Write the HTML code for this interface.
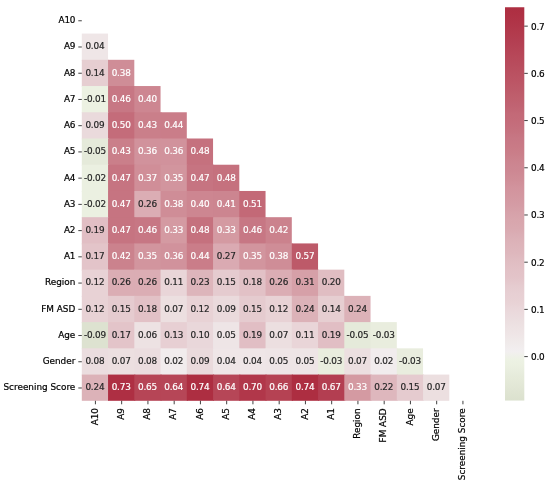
<!DOCTYPE html>
<html lang="en"><head><meta charset="utf-8"><title>Correlation heatmap</title>
<style>
html,body{margin:0;padding:0;background:#fff;}
body{width:550px;height:485px;position:relative;overflow:hidden;}
svg text{font-family:"DejaVu Sans","Liberation Sans",sans-serif;}
</style></head><body>
<svg width="550" height="485" viewBox="0 0 550 485" style="display:block;position:absolute;left:0;top:0">
<rect x="0" y="0" width="550" height="485" fill="#ffffff"/>
<g shape-rendering="auto">
<rect x="81.8" y="33.58" width="26.25" height="27.23" fill="#efe6e7"/>
<rect x="81.8" y="59.81" width="27.25" height="27.23" fill="#e6ced1"/>
<rect x="108.05" y="59.81" width="26.25" height="27.23" fill="#cf8d97"/>
<rect x="81.8" y="86.04" width="27.25" height="27.23" fill="#ecf1e2"/>
<rect x="108.05" y="86.04" width="27.25" height="27.23" fill="#c77784"/>
<rect x="134.3" y="86.04" width="26.25" height="27.23" fill="#cd8691"/>
<rect x="81.8" y="112.27" width="27.25" height="27.23" fill="#eadadc"/>
<rect x="108.05" y="112.27" width="27.25" height="27.23" fill="#c46c7a"/>
<rect x="134.3" y="112.27" width="27.25" height="27.23" fill="#ca7f8a"/>
<rect x="160.55" y="112.27" width="26.25" height="27.23" fill="#ca7d89"/>
<rect x="81.8" y="138.5" width="27.25" height="27.23" fill="#e5eada"/>
<rect x="108.05" y="138.5" width="27.25" height="27.23" fill="#ca7f8a"/>
<rect x="134.3" y="138.5" width="27.25" height="27.23" fill="#d1929c"/>
<rect x="160.55" y="138.5" width="27.25" height="27.23" fill="#d1929c"/>
<rect x="186.8" y="138.5" width="26.25" height="27.23" fill="#c5717e"/>
<rect x="81.8" y="164.73" width="27.25" height="27.23" fill="#ebf0e1"/>
<rect x="108.05" y="164.73" width="27.25" height="27.23" fill="#c67481"/>
<rect x="134.3" y="164.73" width="27.25" height="27.23" fill="#d08e98"/>
<rect x="160.55" y="164.73" width="27.25" height="27.23" fill="#d2959e"/>
<rect x="186.8" y="164.73" width="27.25" height="27.23" fill="#c67481"/>
<rect x="213.05" y="164.73" width="26.25" height="27.23" fill="#c5717e"/>
<rect x="81.8" y="190.96" width="27.25" height="27.23" fill="#ebf0e1"/>
<rect x="108.05" y="190.96" width="27.25" height="27.23" fill="#c67481"/>
<rect x="134.3" y="190.96" width="27.25" height="27.23" fill="#dbadb4"/>
<rect x="160.55" y="190.96" width="27.25" height="27.23" fill="#cf8d97"/>
<rect x="186.8" y="190.96" width="27.25" height="27.23" fill="#cd8691"/>
<rect x="213.05" y="190.96" width="27.25" height="27.23" fill="#cc8590"/>
<rect x="239.3" y="190.96" width="26.25" height="27.23" fill="#c36977"/>
<rect x="81.8" y="217.19" width="27.25" height="27.23" fill="#e1bec4"/>
<rect x="108.05" y="217.19" width="27.25" height="27.23" fill="#c67481"/>
<rect x="134.3" y="217.19" width="27.25" height="27.23" fill="#c77784"/>
<rect x="160.55" y="217.19" width="27.25" height="27.23" fill="#d49aa2"/>
<rect x="186.8" y="217.19" width="27.25" height="27.23" fill="#c5717e"/>
<rect x="213.05" y="217.19" width="27.25" height="27.23" fill="#d49aa2"/>
<rect x="239.3" y="217.19" width="27.25" height="27.23" fill="#c77784"/>
<rect x="265.55" y="217.19" width="26.25" height="27.23" fill="#cb828d"/>
<rect x="81.8" y="243.42" width="27.25" height="27.23" fill="#e3c4c9"/>
<rect x="108.05" y="243.42" width="27.25" height="27.23" fill="#cb828d"/>
<rect x="134.3" y="243.42" width="27.25" height="27.23" fill="#d2959e"/>
<rect x="160.55" y="243.42" width="27.25" height="27.23" fill="#d1929c"/>
<rect x="186.8" y="243.42" width="27.25" height="27.23" fill="#ca7d89"/>
<rect x="213.05" y="243.42" width="27.25" height="27.23" fill="#daaab2"/>
<rect x="239.3" y="243.42" width="27.25" height="27.23" fill="#d2959e"/>
<rect x="265.55" y="243.42" width="27.25" height="27.23" fill="#cf8d97"/>
<rect x="291.8" y="243.42" width="26.25" height="27.23" fill="#bd5a69"/>
<rect x="81.8" y="269.65" width="27.25" height="27.23" fill="#e8d2d5"/>
<rect x="108.05" y="269.65" width="27.25" height="27.23" fill="#dbadb4"/>
<rect x="134.3" y="269.65" width="27.25" height="27.23" fill="#dbadb4"/>
<rect x="160.55" y="269.65" width="27.25" height="27.23" fill="#e9d5d8"/>
<rect x="186.8" y="269.65" width="27.25" height="27.23" fill="#ddb5bb"/>
<rect x="213.05" y="269.65" width="27.25" height="27.23" fill="#e5cbcf"/>
<rect x="239.3" y="269.65" width="27.25" height="27.23" fill="#e2c1c6"/>
<rect x="265.55" y="269.65" width="27.25" height="27.23" fill="#dbadb4"/>
<rect x="291.8" y="269.65" width="27.25" height="27.23" fill="#d6a0a8"/>
<rect x="318.05" y="269.65" width="26.25" height="27.23" fill="#e0bdc2"/>
<rect x="81.8" y="295.88" width="27.25" height="27.23" fill="#e8d2d5"/>
<rect x="108.05" y="295.88" width="27.25" height="27.23" fill="#e5cbcf"/>
<rect x="134.3" y="295.88" width="27.25" height="27.23" fill="#e2c1c6"/>
<rect x="160.55" y="295.88" width="27.25" height="27.23" fill="#ecdfe0"/>
<rect x="186.8" y="295.88" width="27.25" height="27.23" fill="#e8d2d5"/>
<rect x="213.05" y="295.88" width="27.25" height="27.23" fill="#eadadc"/>
<rect x="239.3" y="295.88" width="27.25" height="27.23" fill="#e5cbcf"/>
<rect x="265.55" y="295.88" width="27.25" height="27.23" fill="#e8d2d5"/>
<rect x="291.8" y="295.88" width="27.25" height="27.23" fill="#dcb2b8"/>
<rect x="318.05" y="295.88" width="27.25" height="27.23" fill="#e6ced1"/>
<rect x="344.3" y="295.88" width="26.25" height="27.23" fill="#dcb2b8"/>
<rect x="81.8" y="322.11" width="27.25" height="27.23" fill="#dde2d0"/>
<rect x="108.05" y="322.11" width="27.25" height="27.23" fill="#e3c4c9"/>
<rect x="134.3" y="322.11" width="27.25" height="27.23" fill="#ede2e3"/>
<rect x="160.55" y="322.11" width="27.25" height="27.23" fill="#e7cfd3"/>
<rect x="186.8" y="322.11" width="27.25" height="27.23" fill="#e9d7da"/>
<rect x="213.05" y="322.11" width="27.25" height="27.23" fill="#eee5e6"/>
<rect x="239.3" y="322.11" width="27.25" height="27.23" fill="#e1bec4"/>
<rect x="265.55" y="322.11" width="27.25" height="27.23" fill="#ecdfe0"/>
<rect x="291.8" y="322.11" width="27.25" height="27.23" fill="#e9d5d8"/>
<rect x="318.05" y="322.11" width="27.25" height="27.23" fill="#e1bec4"/>
<rect x="344.3" y="322.11" width="27.25" height="27.23" fill="#e5eada"/>
<rect x="370.55" y="322.11" width="26.25" height="27.23" fill="#e9edde"/>
<rect x="81.8" y="348.34" width="27.25" height="27.23" fill="#ebdddf"/>
<rect x="108.05" y="348.34" width="27.25" height="27.23" fill="#ecdfe0"/>
<rect x="134.3" y="348.34" width="27.25" height="27.23" fill="#ebdddf"/>
<rect x="160.55" y="348.34" width="27.25" height="27.23" fill="#f1eced"/>
<rect x="186.8" y="348.34" width="27.25" height="27.23" fill="#eadadc"/>
<rect x="213.05" y="348.34" width="27.25" height="27.23" fill="#efe6e7"/>
<rect x="239.3" y="348.34" width="27.25" height="27.23" fill="#efe6e7"/>
<rect x="265.55" y="348.34" width="27.25" height="27.23" fill="#eee5e6"/>
<rect x="291.8" y="348.34" width="27.25" height="27.23" fill="#eee5e6"/>
<rect x="318.05" y="348.34" width="27.25" height="27.23" fill="#e9edde"/>
<rect x="344.3" y="348.34" width="27.25" height="27.23" fill="#ecdfe0"/>
<rect x="370.55" y="348.34" width="27.25" height="27.23" fill="#f1eced"/>
<rect x="396.8" y="348.34" width="26.25" height="27.23" fill="#e9edde"/>
<rect x="81.8" y="374.57" width="27.25" height="26.23" fill="#dcb2b8"/>
<rect x="108.05" y="374.57" width="27.25" height="26.23" fill="#ae2f43"/>
<rect x="134.3" y="374.57" width="27.25" height="26.23" fill="#b64556"/>
<rect x="160.55" y="374.57" width="27.25" height="26.23" fill="#b64657"/>
<rect x="186.8" y="374.57" width="27.25" height="26.23" fill="#ad2e41"/>
<rect x="213.05" y="374.57" width="27.25" height="26.23" fill="#b64657"/>
<rect x="239.3" y="374.57" width="27.25" height="26.23" fill="#b1374a"/>
<rect x="265.55" y="374.57" width="27.25" height="26.23" fill="#b54253"/>
<rect x="291.8" y="374.57" width="27.25" height="26.23" fill="#ad2e41"/>
<rect x="318.05" y="374.57" width="27.25" height="26.23" fill="#b33e51"/>
<rect x="344.3" y="374.57" width="27.25" height="26.23" fill="#d49aa2"/>
<rect x="370.55" y="374.57" width="27.25" height="26.23" fill="#deb7bd"/>
<rect x="396.8" y="374.57" width="27.25" height="26.23" fill="#e5cbcf"/>
<rect x="423.05" y="374.57" width="26.25" height="26.23" fill="#ecdfe0"/>
</g>
<g font-size="8.87" text-anchor="middle" letter-spacing="-0.2" stroke-width="0.2">
<text x="94.92" y="49.4" fill="#262626" stroke="#262626">0.04</text>
<text x="94.92" y="75.62" fill="#262626" stroke="#262626">0.14</text>
<text x="121.17" y="75.62" fill="#ffffff" stroke="#ffffff">0.38</text>
<text x="94.92" y="101.86" fill="#262626" stroke="#262626">-0.01</text>
<text x="121.17" y="101.86" fill="#ffffff" stroke="#ffffff">0.46</text>
<text x="147.43" y="101.86" fill="#ffffff" stroke="#ffffff">0.40</text>
<text x="94.92" y="128.08" fill="#262626" stroke="#262626">0.09</text>
<text x="121.17" y="128.08" fill="#ffffff" stroke="#ffffff">0.50</text>
<text x="147.43" y="128.08" fill="#ffffff" stroke="#ffffff">0.43</text>
<text x="173.68" y="128.08" fill="#ffffff" stroke="#ffffff">0.44</text>
<text x="94.92" y="154.31" fill="#262626" stroke="#262626">-0.05</text>
<text x="121.17" y="154.31" fill="#ffffff" stroke="#ffffff">0.43</text>
<text x="147.43" y="154.31" fill="#ffffff" stroke="#ffffff">0.36</text>
<text x="173.68" y="154.31" fill="#ffffff" stroke="#ffffff">0.36</text>
<text x="199.93" y="154.31" fill="#ffffff" stroke="#ffffff">0.48</text>
<text x="94.92" y="180.54" fill="#262626" stroke="#262626">-0.02</text>
<text x="121.17" y="180.54" fill="#ffffff" stroke="#ffffff">0.47</text>
<text x="147.43" y="180.54" fill="#ffffff" stroke="#ffffff">0.37</text>
<text x="173.68" y="180.54" fill="#ffffff" stroke="#ffffff">0.35</text>
<text x="199.93" y="180.54" fill="#ffffff" stroke="#ffffff">0.47</text>
<text x="226.18" y="180.54" fill="#ffffff" stroke="#ffffff">0.48</text>
<text x="94.92" y="206.77" fill="#262626" stroke="#262626">-0.02</text>
<text x="121.17" y="206.77" fill="#ffffff" stroke="#ffffff">0.47</text>
<text x="147.43" y="206.77" fill="#262626" stroke="#262626">0.26</text>
<text x="173.68" y="206.77" fill="#ffffff" stroke="#ffffff">0.38</text>
<text x="199.93" y="206.77" fill="#ffffff" stroke="#ffffff">0.40</text>
<text x="226.18" y="206.77" fill="#ffffff" stroke="#ffffff">0.41</text>
<text x="252.43" y="206.77" fill="#ffffff" stroke="#ffffff">0.51</text>
<text x="94.92" y="233" fill="#262626" stroke="#262626">0.19</text>
<text x="121.17" y="233" fill="#ffffff" stroke="#ffffff">0.47</text>
<text x="147.43" y="233" fill="#ffffff" stroke="#ffffff">0.46</text>
<text x="173.68" y="233" fill="#ffffff" stroke="#ffffff">0.33</text>
<text x="199.93" y="233" fill="#ffffff" stroke="#ffffff">0.48</text>
<text x="226.18" y="233" fill="#ffffff" stroke="#ffffff">0.33</text>
<text x="252.43" y="233" fill="#ffffff" stroke="#ffffff">0.46</text>
<text x="278.68" y="233" fill="#ffffff" stroke="#ffffff">0.42</text>
<text x="94.92" y="259.24" fill="#262626" stroke="#262626">0.17</text>
<text x="121.17" y="259.24" fill="#ffffff" stroke="#ffffff">0.42</text>
<text x="147.43" y="259.24" fill="#ffffff" stroke="#ffffff">0.35</text>
<text x="173.68" y="259.24" fill="#ffffff" stroke="#ffffff">0.36</text>
<text x="199.93" y="259.24" fill="#ffffff" stroke="#ffffff">0.44</text>
<text x="226.18" y="259.24" fill="#262626" stroke="#262626">0.27</text>
<text x="252.43" y="259.24" fill="#ffffff" stroke="#ffffff">0.35</text>
<text x="278.68" y="259.24" fill="#ffffff" stroke="#ffffff">0.38</text>
<text x="304.93" y="259.24" fill="#ffffff" stroke="#ffffff">0.57</text>
<text x="94.92" y="285.47" fill="#262626" stroke="#262626">0.12</text>
<text x="121.17" y="285.47" fill="#262626" stroke="#262626">0.26</text>
<text x="147.43" y="285.47" fill="#262626" stroke="#262626">0.26</text>
<text x="173.68" y="285.47" fill="#262626" stroke="#262626">0.11</text>
<text x="199.93" y="285.47" fill="#262626" stroke="#262626">0.23</text>
<text x="226.18" y="285.47" fill="#262626" stroke="#262626">0.15</text>
<text x="252.43" y="285.47" fill="#262626" stroke="#262626">0.18</text>
<text x="278.68" y="285.47" fill="#262626" stroke="#262626">0.26</text>
<text x="304.93" y="285.47" fill="#262626" stroke="#262626">0.31</text>
<text x="331.18" y="285.47" fill="#262626" stroke="#262626">0.20</text>
<text x="94.92" y="311.69" fill="#262626" stroke="#262626">0.12</text>
<text x="121.17" y="311.69" fill="#262626" stroke="#262626">0.15</text>
<text x="147.43" y="311.69" fill="#262626" stroke="#262626">0.18</text>
<text x="173.68" y="311.69" fill="#262626" stroke="#262626">0.07</text>
<text x="199.93" y="311.69" fill="#262626" stroke="#262626">0.12</text>
<text x="226.18" y="311.69" fill="#262626" stroke="#262626">0.09</text>
<text x="252.43" y="311.69" fill="#262626" stroke="#262626">0.15</text>
<text x="278.68" y="311.69" fill="#262626" stroke="#262626">0.12</text>
<text x="304.93" y="311.69" fill="#262626" stroke="#262626">0.24</text>
<text x="331.18" y="311.69" fill="#262626" stroke="#262626">0.14</text>
<text x="357.43" y="311.69" fill="#262626" stroke="#262626">0.24</text>
<text x="94.92" y="337.93" fill="#262626" stroke="#262626">-0.09</text>
<text x="121.17" y="337.93" fill="#262626" stroke="#262626">0.17</text>
<text x="147.43" y="337.93" fill="#262626" stroke="#262626">0.06</text>
<text x="173.68" y="337.93" fill="#262626" stroke="#262626">0.13</text>
<text x="199.93" y="337.93" fill="#262626" stroke="#262626">0.10</text>
<text x="226.18" y="337.93" fill="#262626" stroke="#262626">0.05</text>
<text x="252.43" y="337.93" fill="#262626" stroke="#262626">0.19</text>
<text x="278.68" y="337.93" fill="#262626" stroke="#262626">0.07</text>
<text x="304.93" y="337.93" fill="#262626" stroke="#262626">0.11</text>
<text x="331.18" y="337.93" fill="#262626" stroke="#262626">0.19</text>
<text x="357.43" y="337.93" fill="#262626" stroke="#262626">-0.05</text>
<text x="383.68" y="337.93" fill="#262626" stroke="#262626">-0.03</text>
<text x="94.92" y="364.16" fill="#262626" stroke="#262626">0.08</text>
<text x="121.17" y="364.16" fill="#262626" stroke="#262626">0.07</text>
<text x="147.43" y="364.16" fill="#262626" stroke="#262626">0.08</text>
<text x="173.68" y="364.16" fill="#262626" stroke="#262626">0.02</text>
<text x="199.93" y="364.16" fill="#262626" stroke="#262626">0.09</text>
<text x="226.18" y="364.16" fill="#262626" stroke="#262626">0.04</text>
<text x="252.43" y="364.16" fill="#262626" stroke="#262626">0.04</text>
<text x="278.68" y="364.16" fill="#262626" stroke="#262626">0.05</text>
<text x="304.93" y="364.16" fill="#262626" stroke="#262626">0.05</text>
<text x="331.18" y="364.16" fill="#262626" stroke="#262626">-0.03</text>
<text x="357.43" y="364.16" fill="#262626" stroke="#262626">0.07</text>
<text x="383.68" y="364.16" fill="#262626" stroke="#262626">0.02</text>
<text x="409.93" y="364.16" fill="#262626" stroke="#262626">-0.03</text>
<text x="94.92" y="390.38" fill="#262626" stroke="#262626">0.24</text>
<text x="121.17" y="390.38" fill="#ffffff" stroke="#ffffff">0.73</text>
<text x="147.43" y="390.38" fill="#ffffff" stroke="#ffffff">0.65</text>
<text x="173.68" y="390.38" fill="#ffffff" stroke="#ffffff">0.64</text>
<text x="199.93" y="390.38" fill="#ffffff" stroke="#ffffff">0.74</text>
<text x="226.18" y="390.38" fill="#ffffff" stroke="#ffffff">0.64</text>
<text x="252.43" y="390.38" fill="#ffffff" stroke="#ffffff">0.70</text>
<text x="278.68" y="390.38" fill="#ffffff" stroke="#ffffff">0.66</text>
<text x="304.93" y="390.38" fill="#ffffff" stroke="#ffffff">0.74</text>
<text x="331.18" y="390.38" fill="#ffffff" stroke="#ffffff">0.67</text>
<text x="357.43" y="390.38" fill="#ffffff" stroke="#ffffff">0.33</text>
<text x="383.68" y="390.38" fill="#262626" stroke="#262626">0.22</text>
<text x="409.93" y="390.38" fill="#262626" stroke="#262626">0.15</text>
<text x="436.18" y="390.38" fill="#262626" stroke="#262626">0.07</text>
</g>
<g stroke="#000" stroke-width="0.75">
<line x1="78.3" y1="20.77" x2="81.8" y2="20.77"/>
<line x1="78.3" y1="46.99" x2="81.8" y2="46.99"/>
<line x1="78.3" y1="73.22" x2="81.8" y2="73.22"/>
<line x1="78.3" y1="99.45" x2="81.8" y2="99.45"/>
<line x1="78.3" y1="125.68" x2="81.8" y2="125.68"/>
<line x1="78.3" y1="151.92" x2="81.8" y2="151.92"/>
<line x1="78.3" y1="178.15" x2="81.8" y2="178.15"/>
<line x1="78.3" y1="204.38" x2="81.8" y2="204.38"/>
<line x1="78.3" y1="230.61" x2="81.8" y2="230.61"/>
<line x1="78.3" y1="256.84" x2="81.8" y2="256.84"/>
<line x1="78.3" y1="283.07" x2="81.8" y2="283.07"/>
<line x1="78.3" y1="309.3" x2="81.8" y2="309.3"/>
<line x1="78.3" y1="335.53" x2="81.8" y2="335.53"/>
<line x1="78.3" y1="361.76" x2="81.8" y2="361.76"/>
<line x1="78.3" y1="387.99" x2="81.8" y2="387.99"/>
<line x1="95.42" y1="400.8" x2="95.42" y2="404.3"/>
<line x1="121.67" y1="400.8" x2="121.67" y2="404.3"/>
<line x1="147.93" y1="400.8" x2="147.93" y2="404.3"/>
<line x1="174.18" y1="400.8" x2="174.18" y2="404.3"/>
<line x1="200.43" y1="400.8" x2="200.43" y2="404.3"/>
<line x1="226.68" y1="400.8" x2="226.68" y2="404.3"/>
<line x1="252.93" y1="400.8" x2="252.93" y2="404.3"/>
<line x1="279.18" y1="400.8" x2="279.18" y2="404.3"/>
<line x1="305.43" y1="400.8" x2="305.43" y2="404.3"/>
<line x1="331.68" y1="400.8" x2="331.68" y2="404.3"/>
<line x1="357.93" y1="400.8" x2="357.93" y2="404.3"/>
<line x1="384.18" y1="400.8" x2="384.18" y2="404.3"/>
<line x1="410.43" y1="400.8" x2="410.43" y2="404.3"/>
<line x1="436.68" y1="400.8" x2="436.68" y2="404.3"/>
<line x1="462.93" y1="400.8" x2="462.93" y2="404.3"/>
</g>
<g font-size="8.87" text-anchor="end" fill="#000" stroke="#000" stroke-width="0.2">
<text x="75.3" y="23.16" letter-spacing="-0.2">A10</text>
<text x="75.3" y="49.4" letter-spacing="-0.2">A9</text>
<text x="75.3" y="75.62" letter-spacing="-0.2">A8</text>
<text x="75.3" y="101.86" letter-spacing="-0.2">A7</text>
<text x="75.3" y="128.08" letter-spacing="-0.2">A6</text>
<text x="75.3" y="154.31" letter-spacing="-0.2">A5</text>
<text x="75.3" y="180.54" letter-spacing="-0.2">A4</text>
<text x="75.3" y="206.77" letter-spacing="-0.2">A3</text>
<text x="75.3" y="233" letter-spacing="-0.2">A2</text>
<text x="75.3" y="259.24" letter-spacing="-0.2">A1</text>
<text x="75.3" y="285.47">Region</text>
<text x="75.3" y="311.69">FM ASD</text>
<text x="75.3" y="337.93">Age</text>
<text x="75.3" y="364.16">Gender</text>
<text x="75.3" y="390.38">Screening Score</text>
<text transform="translate(97.62 408.4) rotate(-90)" letter-spacing="-0.2">A10</text>
<text transform="translate(123.88 408.4) rotate(-90)" letter-spacing="-0.2">A9</text>
<text transform="translate(150.12 408.4) rotate(-90)" letter-spacing="-0.2">A8</text>
<text transform="translate(176.38 408.4) rotate(-90)" letter-spacing="-0.2">A7</text>
<text transform="translate(202.62 408.4) rotate(-90)" letter-spacing="-0.2">A6</text>
<text transform="translate(228.88 408.4) rotate(-90)" letter-spacing="-0.2">A5</text>
<text transform="translate(255.12 408.4) rotate(-90)" letter-spacing="-0.2">A4</text>
<text transform="translate(281.38 408.4) rotate(-90)" letter-spacing="-0.2">A3</text>
<text transform="translate(307.62 408.4) rotate(-90)" letter-spacing="-0.2">A2</text>
<text transform="translate(333.88 408.4) rotate(-90)" letter-spacing="-0.2">A1</text>
<text transform="translate(360.12 408.4) rotate(-90)">Region</text>
<text transform="translate(386.38 408.4) rotate(-90)">FM ASD</text>
<text transform="translate(412.62 408.4) rotate(-90)">Age</text>
<text transform="translate(438.88 408.4) rotate(-90)">Gender</text>
<text transform="translate(465.12 408.4) rotate(-90)">Screening Score</text>
</g>
<defs><linearGradient id="cbg" x1="0" y1="0" x2="0" y2="1"><stop offset="0%" stop-color="#ad2e41"/><stop offset="2.08%" stop-color="#af3144"/><stop offset="4.17%" stop-color="#b03548"/><stop offset="6.25%" stop-color="#b23a4c"/><stop offset="8.33%" stop-color="#b33e51"/><stop offset="10.42%" stop-color="#b54355"/><stop offset="12.5%" stop-color="#b74859"/><stop offset="14.58%" stop-color="#b84c5d"/><stop offset="16.67%" stop-color="#ba5161"/><stop offset="18.75%" stop-color="#bc5565"/><stop offset="20.83%" stop-color="#bd5a69"/><stop offset="22.92%" stop-color="#bf5f6d"/><stop offset="25%" stop-color="#c06372"/><stop offset="27.08%" stop-color="#c36977"/><stop offset="29.17%" stop-color="#c46c7a"/><stop offset="31.25%" stop-color="#c5717e"/><stop offset="33.33%" stop-color="#c77784"/><stop offset="35.42%" stop-color="#c97a86"/><stop offset="37.5%" stop-color="#ca7f8a"/><stop offset="39.58%" stop-color="#cc8590"/><stop offset="41.67%" stop-color="#cd8893"/><stop offset="43.75%" stop-color="#cf8d97"/><stop offset="45.83%" stop-color="#d2939d"/><stop offset="47.92%" stop-color="#d397a0"/><stop offset="50%" stop-color="#d49ba4"/><stop offset="52.08%" stop-color="#d6a1a9"/><stop offset="54.17%" stop-color="#d8a6ad"/><stop offset="56.25%" stop-color="#d9a9b0"/><stop offset="58.33%" stop-color="#dbafb6"/><stop offset="60.42%" stop-color="#ddb4ba"/><stop offset="62.5%" stop-color="#deb7bd"/><stop offset="64.58%" stop-color="#e0bdc2"/><stop offset="66.67%" stop-color="#e2c1c6"/><stop offset="68.75%" stop-color="#e3c4c9"/><stop offset="70.83%" stop-color="#e5cbcf"/><stop offset="72.92%" stop-color="#e7cfd3"/><stop offset="75%" stop-color="#e8d2d5"/><stop offset="77.08%" stop-color="#ead8db"/><stop offset="79.17%" stop-color="#ebdddf"/><stop offset="81.25%" stop-color="#ede2e3"/><stop offset="83.33%" stop-color="#efe6e7"/><stop offset="85.42%" stop-color="#f0ebeb"/><stop offset="87.5%" stop-color="#f2eff0"/><stop offset="89.58%" stop-color="#edf2e4"/><stop offset="91.67%" stop-color="#eaefe0"/><stop offset="93.75%" stop-color="#e6ebdb"/><stop offset="95.83%" stop-color="#e3e8d7"/><stop offset="97.92%" stop-color="#dfe4d2"/><stop offset="100%" stop-color="#dbe1ce"/></linearGradient></defs>
<rect x="505" y="7.25" width="19.3" height="393.3" fill="url(#cbg)"/>
<g stroke="#000" stroke-width="0.75">
<line x1="524.3" y1="356.6" x2="527.8" y2="356.6"/>
<line x1="524.3" y1="309.39" x2="527.8" y2="309.39"/>
<line x1="524.3" y1="262.19" x2="527.8" y2="262.19"/>
<line x1="524.3" y1="214.98" x2="527.8" y2="214.98"/>
<line x1="524.3" y1="167.77" x2="527.8" y2="167.77"/>
<line x1="524.3" y1="120.57" x2="527.8" y2="120.57"/>
<line x1="524.3" y1="73.36" x2="527.8" y2="73.36"/>
<line x1="524.3" y1="26.15" x2="527.8" y2="26.15"/>
</g>
<g font-size="8.87" text-anchor="start" fill="#000" stroke="#000" stroke-width="0.2" letter-spacing="-0.2">
<text x="531" y="360.1">0.0</text>
<text x="531" y="312.89">0.1</text>
<text x="531" y="265.69">0.2</text>
<text x="531" y="218.48">0.3</text>
<text x="531" y="171.27">0.4</text>
<text x="531" y="124.07">0.5</text>
<text x="531" y="76.86">0.6</text>
<text x="531" y="29.65">0.7</text>
</g>
</svg>
</body></html>
